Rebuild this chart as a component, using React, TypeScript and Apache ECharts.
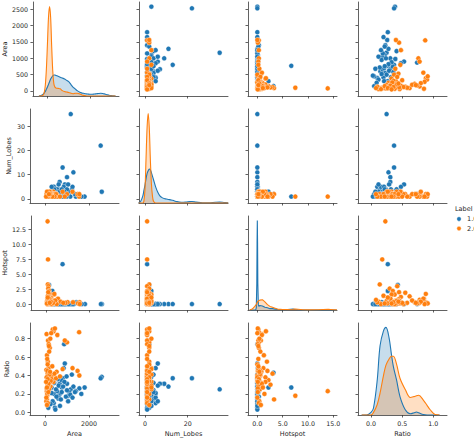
import React, { useEffect, useRef } from "react";
import * as echarts from "echarts";

// ---------- data ----------
const VARS = ["Area", "Num_Lobes", "Hotspot", "Ratio"];
const HUE_LABELS = ["1.0", "2.0"];
const HUE_COLORS = ["#1f77b4", "#ff7f0e"];

// label 1 (blue)
const blueArea = [2580, 2530, 1170, 1800, 1560, 1400, 1290, 1220, 1100, 1000, 900, 850, 800, 870, 770, 665, 750, 415, 400, 150, 1360, 1060, 150, 450, 470, 300, 600, 650, 700, 550, 500, 950, 1150, 1000, 350, 250, 620, 880, 720, 520, 1250, 980, 420, 820, 580, 300, 1050, 680, 1650, 760];
const blueLobes = [3, 22, 35, 1, 1, 1, 11, 4, 3, 9, 6, 5, 13, 2, 1, 7, 1, 5, 5, 2, 2, 3, 1, 2, 1, 3, 4, 3, 2, 4, 3, 2, 1, 4, 3, 1, 6, 3, 1, 2, 5, 1, 4, 1, 1, 5, 6, 3, 1, 4];
const blueHotspot = [0, 0, 0, 0, 0.05, 0.3, 0, 0, 0.1, 0, 0, 0.1, 0, 0, 6.7, 0, 0, 0, 0, 3.2, 0.2, 0, 0, 0, 0, 2.2, 0, 0, 0.1, 0, 0, 0, 0, 0.1, 0, 0, 0, 0, 0, 0.3, 0, 0.2, 0, 0, 0, 0, 0, 0, 0, 0];
const blueRatio = [0.385, 0.37, 0.25, 0.27, 0.26, 0.23, 0.28, 0.41, 0.22, 0.31, 0.53, 0.48, 0.37, 0.74, 0.27, 0.31, 0.35, 0.2, 0.1, 0.43, 0.22, 0.18, 0.05, 0.05, 0.03, 0.27, 0.15, 0.19, 0.21, 0.23, 0.25, 0.17, 0.19, 0.24, 0.12, 0.09, 0.29, 0.33, 0.14, 0.17, 0.16, 0.39, 0.32, 0.28, 0.36, 0.21, 0.12, 0.07, 0.2, 0.22];

// label 2 (orange)
const orangeArea = [80, 100, 90, 120, 110, 150, 130, 200, 380, 90, 160, 250, 530, 70, 140, 300, 180, 60, 220, 1000, 900, 1550, 1480, 1250, 1560, 560, 390, 350, 450, 280, 240, 170, 190, 100, 120, 60, 310, 210, 140, 80, 500, 680, 800, 430, 100, 60, 130, 90, 150, 260, 110, 200, 330, 70, 160, 120, 90, 230, 50, 180];
const orangeLobes = [1, 1, 2, 1, 2, 1, 2, 1, 3, 1, 2, 1, 2, 1, 2, 1, 3, 1, 2, 2, 1, 1, 2, 3, 2, 1, 2, 1, 2, 1, 3, 1, 2, 1, 2, 1, 2, 1, 3, 1, 2, 1, 3, 1, 2, 1, 1, 2, 1, 2, 1, 3, 1, 2, 1, 1, 3, 2, 1, 2];
const orangeHotspot = [13.9, 7.5, 3.3, 3.0, 2.6, 2.2, 1.9, 1.6, 1.6, 1.3, 1.2, 1.0, 0.8, 0.9, 0.7, 0.6, 0.5, 0.4, 0.3, 0.3, 0.2, 0.3, 0.1, 0.3, 0.0, 0.9, 1.7, 0.2, 0.1, 0.0, 0.4, 0.1, 0.6, 0.2, 0.0, 0.5, 0.3, 0.8, 0.2, 0.1, 0.0, 0.4, 0.2, 0.6, 1.4, 0.0, 0.3, 0.7, 0.1, 0.0, 2.0, 0.5, 0.2, 0.0, 0.9, 0.3, 1.1, 0.4, 0.1, 0.2];
const orangeRatio = [0.23, 0.18, 0.14, 0.42, 0.3, 0.35, 0.55, 0.38, 0.33, 0.62, 0.48, 0.28, 0.44, 0.85, 0.78, 0.4, 0.25, 0.12, 0.7, 0.76, 0.78, 0.87, 0.45, 0.48, 0.4, 0.84, 0.88, 0.9, 0.91, 0.86, 0.8, 0.74, 0.66, 0.58, 0.52, 0.46, 0.36, 0.32, 0.29, 0.26, 0.37, 0.39, 0.47, 0.42, 0.2, 0.16, 0.1, 0.08, 0.22, 0.34, 0.45, 0.41, 0.5, 0.38, 0.31, 0.36, 0.27, 0.44, 0.33, 0.72];

// KDE curves (x value, relative density)
const kdeAreaX = [-400, -300, -200, -150, -100, -50, 0, 50, 100, 150, 200, 250, 300, 350, 400, 500, 600, 700, 800, 900, 1000, 1100, 1200, 1300, 1400, 1500, 1600, 1700, 1800, 1900, 2000, 2100, 2200, 2300, 2400, 2500, 2600, 2700, 2800, 2900, 3000, 3100, 3200];
const kdeAreaBlue = [0, 0.5, 2, 3.5, 5, 7.5, 10, 13, 16, 19, 21, 22.5, 23.5, 23.5, 23, 22, 21, 20, 19, 17.5, 16, 13, 10, 8, 6, 4.5, 3.5, 3, 2.5, 2.2, 2, 2, 2.2, 2.5, 2.8, 3, 2.8, 2.2, 1.5, 0.8, 0.4, 0.1, 0];
const kdeAreaOrange = [0, 0, 1, 4, 12, 30, 58, 88, 100, 88, 55, 28, 14, 10, 9, 8.5, 8, 6, 5, 4.5, 4, 3, 2.5, 3, 3, 2.5, 1.5, 0.7, 0.2, 0, 0, 0, 0, 0, 0, 0, 0, 0, 0, 0, 0, 0, 0];

const kdeLobesX = [-3, -2, -1, -0.5, 0, 0.5, 1, 1.5, 2, 2.5, 3, 3.5, 4, 5, 6, 7, 8, 9, 10, 11, 12, 13, 15, 17, 19, 21, 22, 24, 27, 30, 33, 35, 37, 39];
const kdeLobesBlue = [0, 2, 8, 14, 20, 27, 33, 36, 38, 37, 34, 30, 26, 18, 12, 8, 6, 5, 4.5, 4, 3.5, 3, 1.5, 0.8, 1, 1.5, 1.6, 1, 0.3, 0.3, 0.8, 1, 0.6, 0.2];
const kdeLobesOrange = [0, 0, 0, 2, 15, 50, 85, 100, 85, 50, 22, 8, 2, 0, 0, 0, 0, 0, 0, 0, 0, 0, 0, 0, 0, 0, 0, 0, 0, 0, 0, 0, 0, 0];

const kdeHotX = [-1.5, -1, -0.5, -0.3, -0.2, -0.1, -0.05, 0, 0.05, 0.1, 0.2, 0.3, 0.5, 1, 1.5, 2, 2.5, 3, 3.5, 4, 5, 6, 7, 7.5, 8, 9, 10, 12, 13, 14, 15, 15.7];
const kdeHotBlue = [0, 0, 0, 0, 3, 30, 75, 100, 75, 30, 6, 4, 5, 4.5, 3, 2.5, 1.5, 1.5, 1, 0.5, 0.3, 0.6, 1, 0.5, 0.2, 0, 0, 0, 0, 0, 0, 0];
const kdeHotOrange = [0, 1, 4, 5.5, 6.5, 7.5, 8, 8.5, 9, 9.5, 10, 10.5, 11, 11.5, 9, 6, 4, 3, 2, 1, 0.5, 0.5, 0.8, 1, 0.8, 0.3, 0.1, 0.3, 0.6, 0.8, 0.3, 0.1];

const kdeRatioX = [-0.15, -0.07, 0, 0.04, 0.1, 0.145, 0.2, 0.24, 0.29, 0.33, 0.36, 0.41, 0.465, 0.55, 0.63, 0.69, 0.73, 0.765, 0.84, 0.9, 0.95, 1.03, 1.1];
const kdeRatioBlue = [0, 0, 3, 8, 40, 79, 96, 100, 88, 68, 55, 40, 21, 6, 1.5, 2.5, 3.4, 2.5, 0.5, 0, 0, 0, 0];
const kdeRatioOrange = [0, 0, 0, 3, 12, 25, 45, 57, 64, 67, 67, 58, 42, 29, 20, 21, 22, 22.5, 17, 11, 6, 0.5, 0];

// axes
const X_RANGE = [[-682, 3363], [-2.8, 38.9], [-1.84, 15.73], [-0.209, 1.22]];
const Y_RANGE = [[-153, 2723], [-1.65, 37.1], [-1.0, 14.8], [-0.029, 0.97]];
const X_TICKS = [[0, 2000], [0, 20], [0, 5, 10, 15], [0, 0.5, 1.0]];
const Y_TICKS = [[0, 500, 1000, 1500, 2000, 2500], [0, 10, 20, 30], [0, 2.5, 5, 7.5, 10, 12.5], [0, 0.2, 0.4, 0.6, 0.8]];
const DECIMALS = [0, 0, 1, 1];

// ---------- layout ----------
const COL_LEFT = [30, 139, 248, 358];
const ROW_TOP = [2, 109, 216, 323];
const CELL_W = 89;
const CELL_H = 94;
const Y_NAME_GAP = [18, 18, 23, 20];

const FONT = "DejaVu Sans";
const TEXT = "#262626";
const AXIS = "#3a3a3a";

export default function App() {
  const ref = useRef<HTMLDivElement>(null);
  useEffect(() => {
    if (!ref.current) return;
    const chart = echarts.init(ref.current, undefined, { renderer: "svg" });
    const cols = [
      [blueArea, blueLobes, blueHotspot, blueRatio],
      [orangeArea, orangeLobes, orangeHotspot, orangeRatio],
    ];
    const kdes = [
      [kdeAreaX, kdeAreaBlue, kdeAreaOrange],
      [kdeLobesX, kdeLobesBlue, kdeLobesOrange],
      [kdeHotX, kdeHotBlue, kdeHotOrange],
      [kdeRatioX, kdeRatioBlue, kdeRatioOrange],
    ];
    const grid: any[] = [];
    const xAxis: any[] = [];
    const yAxis: any[] = [];
    const series: any[] = [];
    const fmt = (d: number) => (v: number) => v.toFixed(d);
    for (let r = 0; r < 4; r++) {
      for (let c = 0; c < 4; c++) {
        const g = grid.length;
        grid.push({ left: COL_LEFT[c], top: ROW_TOP[r], width: CELL_W, height: CELL_H });
        xAxis.push({
          gridIndex: g,
          type: "value",
          min: X_RANGE[c][0],
          max: X_RANGE[c][1],
          axisLine: { show: true, onZero: false, lineStyle: { color: AXIS, width: 0.8 } },
          axisTick: { show: true, customValues: X_TICKS[c], length: 2.5, lineStyle: { color: AXIS, width: 0.8 } },
          axisLabel: {
            show: r === 3,
            customValues: X_TICKS[c],
            formatter: fmt(DECIMALS[c]),
            fontSize: 6.3,
            fontFamily: FONT,
            color: TEXT,
            margin: 5,
          },
          splitLine: { show: false },
          name: r === 3 ? VARS[c] : "",
          nameLocation: "middle",
          nameGap: 15,
          nameTextStyle: { fontSize: 6.5, fontFamily: FONT, color: TEXT },
        });
        const yMain = yAxis.length;
        yAxis.push({
          gridIndex: g,
          type: "value",
          min: Y_RANGE[r][0],
          max: Y_RANGE[r][1],
          axisLine: { show: true, onZero: false, lineStyle: { color: AXIS, width: 0.8 } },
          axisTick: { show: true, customValues: Y_TICKS[r], length: 2.5, lineStyle: { color: AXIS, width: 0.8 } },
          axisLabel: {
            show: c === 0,
            customValues: Y_TICKS[r],
            formatter: fmt(DECIMALS[r]),
            fontSize: 6.3,
            fontFamily: FONT,
            color: TEXT,
            margin: 5,
          },
          splitLine: { show: false },
          name: c === 0 ? VARS[r] : "",
          nameLocation: "middle",
          nameGap: Y_NAME_GAP[r],
          nameRotate: 90,
          nameTextStyle: { fontSize: 6.5, fontFamily: FONT, color: TEXT },
        });
        if (r === c) {
          const dIdx = yAxis.length;
          yAxis.push({ gridIndex: g, type: "value", min: 0, max: 105, show: false, splitLine: { show: false } });
          const [kx, kb, ko] = kdes[r];
          [kb, ko].forEach((kv, h) => {
            series.push({
              type: "line",
              xAxisIndex: g,
              yAxisIndex: dIdx,
              data: kx.map((x, i) => [x, kv[i]]),
              smooth: r === 2 ? false : 0.35,
              symbol: "none",
              lineStyle: { color: HUE_COLORS[h], width: 1.1 },
              areaStyle: { color: HUE_COLORS[h], opacity: 0.25 },
              clip: true,
              silent: true,
            });
          });
        } else {
          [0, 1].forEach((h) => {
            const xs = cols[h][c];
            const ys = cols[h][r];
            series.push({
              type: "scatter",
              xAxisIndex: g,
              yAxisIndex: yMain,
              data: xs.map((x, i) => [x, ys[i]]),
              symbol: "circle",
              symbolSize: 5,
              itemStyle: { color: HUE_COLORS[h], borderColor: "#ffffff", borderWidth: 0.4, opacity: 1 },
              silent: true,
            });
          });
        }
      }
    }
    const graphic: any[] = [
      { type: "text", left: 455, top: 205, style: { text: "Label", fontSize: 6.5, fontFamily: FONT, fill: TEXT } },
    ];
    HUE_LABELS.forEach((lab, h) => {
      graphic.push({
        type: "circle",
        shape: { cx: 459, cy: 219 + h * 9.5, r: 2.2 },
        style: { fill: HUE_COLORS[h], stroke: "#ffffff", lineWidth: 0.4 },
      });
      graphic.push({
        type: "text",
        x: 467,
        y: 215.5 + h * 9.5,
        style: { text: lab, fontSize: 6.5, fontFamily: FONT, fill: TEXT },
      });
    });
    chart.setOption({
      animation: false,
      backgroundColor: "#ffffff",
      grid,
      xAxis,
      yAxis,
      series,
      graphic,
    });
    return () => chart.dispose();
  }, []);
  return <div ref={ref} style={{ position: "fixed", left: 0, top: 0, width: 474, height: 438 }} />;
}
